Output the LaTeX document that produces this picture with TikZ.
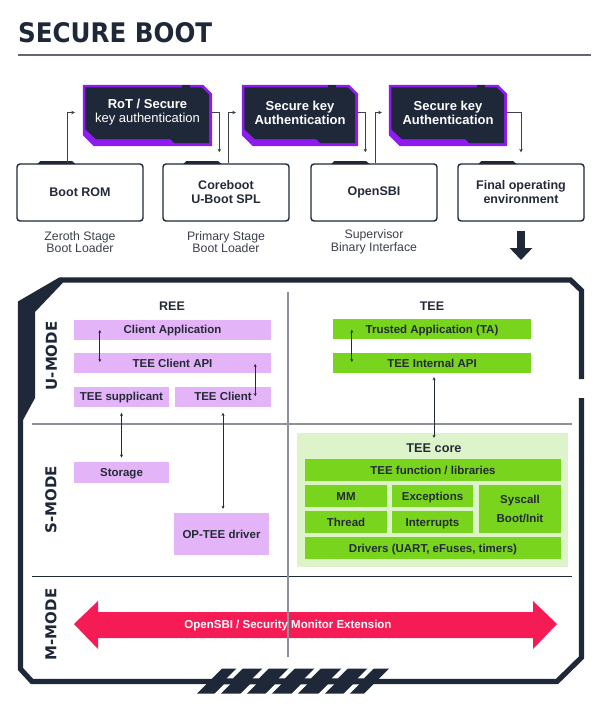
\documentclass[tikz,border=0pt]{standalone}
\usepackage{fontspec}
\setmainfont{Liberation Sans}
\newfontfamily\displayfont{DejaVu Sans}
\usetikzlibrary{arrows.meta, positioning, calc, backgrounds}

\definecolor{navy}{HTML}{1F2839}
\definecolor{ink}{HTML}{252A38}
\definecolor{keyviolet}{HTML}{8E1BF0}
\definecolor{reeviolet}{HTML}{E4B4F8}
\definecolor{teegreen}{HTML}{78D41C}
\definecolor{corebg}{HTML}{DDF4CB}
\definecolor{monitorred}{HTML}{F51C56}
\definecolor{rulegrey}{HTML}{8C9099}
\definecolor{capgrey}{HTML}{3C414C}

% purple key-check plate behind a keybox node
\newcommand\keyplate[1]{%
  \fill[keyviolet] ($(#1.north west)+(0,3)$) -- ($(#1.north east)+(-9,3)$)
    -- ($(#1.north east)+(0,12)$) -- ($(#1.south east)+(0,3)$)
    -- ($(#1.south west)+(11,3)$) -- ($(#1.south west)+(0,-8)$) -- cycle;
  \fill[navy] ($(#1.north west)+(2.5,5.5)$) -- ($(#1.north east)+(-10.5,5.5)$)
    -- ($(#1.north east)+(-3,13)$) -- ($(#1.south east)+(-3,0)$)
    -- ($(#1.south east)+(-38,0)$) -- ($(#1.south east)+(-42,-4)$)
    -- ($(#1.south west)+(13,-4)$) -- ($(#1.south west)+(2.5,-14)$) -- cycle;
  \fill[navy] ($(#1.north east)+(-30,3)$) rectangle ($(#1.north east)+(-22,6)$);}

% folder tab on top of a stagebox node
\newcommand\stagetab[1]{%
  \fill[navy] ($(#1.north west)+(21,0.7)$) -- ($(#1.north west)+(24,-2.2)$)
    -- ($(#1.north west)+(56,-2.2)$) -- ($(#1.north west)+(59,0.7)$) -- cycle;}

\begin{document}
\begin{tikzpicture}[
  x=1pt, y=-1pt,
  keybox/.style={minimum width=#1, minimum height=61pt, inner sep=0pt,
                 align=center, text=white, font=\fontsize{13}{14}\selectfont},
  stagebox/.style={draw=navy, line width=1.4pt, rounded corners=3pt, fill=white,
                   minimum width=126pt, minimum height=57pt, align=center,
                   text=ink, font=\bfseries\fontsize{12.5}{14}\selectfont},
  caption/.style={align=center, text=capgrey, font=\fontsize{12.3}{12.5}\selectfont},
  reebox/.style={fill=reeviolet, minimum width=#1, minimum height=20pt,
                 inner sep=0pt, text height=8.2pt, text depth=0pt, text=ink,
                 font=\bfseries\fontsize{11.5}{13}\selectfont},
  teebox/.style={reebox=#1, fill=teegreen},
  heading/.style={text=ink, inner sep=0pt, font=\bfseries\fontsize{12.5}{14}\selectfont},
  modelabel/.style={rotate=90, inner sep=0pt, text=navy,
                    font=\displayfont\bfseries\fontsize{15}{15}\selectfont},
  link/.style={draw=capgrey, line width=0.8pt, -{Stealth[length=3.5pt,width=3.5pt]}},
  biarrow/.style={draw=ink, line width=0.7pt,
                  {Stealth[length=3pt,width=3pt]}-{Stealth[length=3pt,width=3pt]}},
  frame/.style={draw=navy, line width=5.2pt, line join=miter},
]
\useasboundingbox (0,0) rectangle (610,709);

% ---- title ----
\node[anchor=west, inner sep=0pt, text=navy] (title) at (18,33)
  {\resizebox{194pt}{20pt}{\displayfont\bfseries SECURE BOOT}};
\draw[draw=capgrey!80, line width=2pt] (18,55) -- (591,55);

% ---- boot chain ----
\node[keybox=129pt] (rot) at (147.5,112.5) {\textbf{RoT / Secure}\\key authentication};
\node[keybox=116pt, font=\bfseries\fontsize{13}{14}\selectfont] (keyauthA) at (300,112.5)
  {Secure key\\Authentication};
\node[keybox=118pt, font=\bfseries\fontsize{13}{14}\selectfont] (keyauthB) at (448,112.5)
  {Secure key\\Authentication};

\begin{scope}[on background layer]
  \fill[white] (0,0) rectangle (610,709);
  \keyplate{rot}
  \keyplate{keyauthA}
  \keyplate{keyauthB}
\end{scope}

\node[stagebox] (bootrom)  at (80,192.5)  {Boot ROM};
\node[stagebox] (coreboot) at (226,192.5) {Coreboot\\U-Boot SPL};
\node[stagebox] (opensbi)  at (374,192.5) {OpenSBI};
\node[stagebox] (finalenv) at (521,192.5) {Final operating\\environment};
\stagetab{bootrom}
\stagetab{coreboot}
\stagetab{opensbi}
\stagetab{finalenv}

\node[caption] (zeroth)  at (80,242)  {Zeroth Stage\\Boot Loader};
\node[caption] (primary) at (226,242) {Primary Stage\\Boot Loader};
\node[caption] (sbi)     at (374,242) {Supervisor\\Binary Interface};

\draw[link, shorten >=8pt] ($(bootrom.north west)+(51,0)$) |- (rot.west);
\draw[link, shorten >=11pt] (rot.east) -| ($(coreboot.north west)+(57,0)$);
\draw[link, shorten >=6pt] ($(coreboot.north west)+(66,0)$) |- (keyauthA.west);
\draw[link, shorten >=11pt] (keyauthA.east) -| ($(opensbi.north west)+(55,0)$);
\draw[link, shorten >=7pt] ($(opensbi.north west)+(65,0)$) |- (keyauthB.west);
\draw[link, shorten >=11pt] (keyauthB.east) -| (finalenv.north);

\coordinate (downtip) at (521,260);
\draw[navy, line width=8pt, shorten <=9pt, -{Triangle[length=12pt,width=22pt]}]
  (finalenv.south) -- (downtip);

% ---- privilege frame ----
\draw[frame] (581.5,379) -- (581.5,290.5) -- (570.5,280) -- (60,280) -- (20.5,303)
  -- (20.5,669) -- (32,681.5) -- (557,681.5) -- (581.5,657.5) -- (581.5,398);
\fill[navy] (62,277.4) -- (18,303) -- (18,420) -- (23,420) -- (35,398) -- (35,312)
  -- (63,282.6) -- cycle;
\fill[navy] (222,668.5) -- (389,668.5) -- (364,693.5) -- (197,693.5) -- cycle;
\foreach \gx in {237,263,289,315,342,368}
  \fill[white] (\gx,668) -- ++(6,0) -- ++(-10.3,10.3) -- ++(-6,0) -- cycle;
\foreach \gx in {224,250,275,301,328,353}
  \fill[white] (\gx,684.3) -- ++(6,0) -- ++(-9.7,9.7) -- ++(-6,0) -- cycle;

\draw[rulegrey, line width=1.3pt] (32,424) -- (572,424);
\draw[navy, line width=1pt] (32,576) -- (572,576);

\node[modelabel] (umode) at (51.5,356) {U-MODE};
\node[modelabel] (smode) at (51,499.5) {S-MODE};
\node[modelabel] (mmode) at (51,624.5) {M-MODE};

% ---- REE side ----
\node[heading] (ree) at (172,306) {REE};
\node[reebox=197pt] (clientapp)    at (172.5,329.5) {Client Application};
\node[reebox=197pt] (teeclientapi) at (172.5,363)   {TEE Client API};
\node[reebox=95pt]  (supplicant)   at (121.5,396.7) {TEE supplicant};
\node[reebox=96pt]  (teeclient)    at (223,396.7)   {TEE Client};
\node[reebox=95pt, minimum height=21.6pt] (storage) at (121.5,472.5) {Storage};
\node[reebox=95pt, minimum height=42pt]   (optee)   at (221.5,534)   {OP-TEE driver};

\draw[biarrow] ($(clientapp.west)+(26,0.5)$) -- ($(teeclientapi.west)+(26,-1)$);
\draw[biarrow] ($(teeclientapi.east)+(-16,1)$) -- ($(teeclient.east)+(-16,-0.5)$);
\draw[biarrow, shorten <=6pt, shorten >=4pt] (supplicant.south) -- (storage.north);
\draw[biarrow, shorten <=6pt, shorten >=4pt] (teeclient.south) -- (teeclient.south |- optee.north);

% ---- TEE side ----
\node[heading] (tee) at (432,306) {TEE};
\node[teebox=198pt] (ta)          at (432,329.3) {Trusted Application (TA)};
\node[teebox=198pt] (internalapi) at (432,363)   {TEE Internal API};

\node[fill=corebg, minimum width=270.4pt, minimum height=134.6pt, inner sep=0pt]
  (coreframe) at (432.5,500) {};
\node[heading, font=\bfseries\fontsize{12.7}{14}\selectfont] (coretitle) at (434,448) {TEE core};
\node[teebox=255.7pt, minimum height=21.7pt] (libs)       at (433,470)   {TEE function / libraries};
\node[teebox=81.7pt, minimum height=21.7pt]  (mm)         at (346,496)   {MM};
\node[teebox=81.7pt, minimum height=21.7pt]  (exceptions) at (432.5,496) {Exceptions};
\node[teebox=81.7pt, minimum height=22.6pt]  (thread)     at (346,522)   {Thread};
\node[teebox=81.7pt, minimum height=22.6pt]  (interrupts) at (432.5,522) {Interrupts};
\node[teebox=81.4pt, minimum height=48.3pt, align=center, text height={}, text depth={},
      font=\bfseries\fontsize{11.5}{19.4}\selectfont] (syscall) at (520,509) {Syscall\\Boot/Init};
\node[teebox=255.7pt, minimum height=22.3pt] (drivers)    at (433,548)   {Drivers (UART, eFuses, timers)};

\draw[biarrow] ($(ta.west)+(19,0.5)$) -- ($(internalapi.west)+(19,-1)$);
\draw[biarrow, shorten <=4pt, shorten >=5.5pt] (coretitle.north |- internalapi.south) -- (coretitle.north);

% ---- M-mode ----
\fill[monitorred] (74,624) -- (98,601) -- (98,612) -- (533,612) -- (533,601) -- (557,624)
  -- (533,649) -- (533,638) -- (98,638) -- (98,649) -- cycle;
\draw[rulegrey, line width=1.3pt] (288,292) -- (288,657);
\node[text=white, inner sep=0pt, text height=8.2pt, text depth=0pt,
      font=\bfseries\fontsize{11.5}{13}\selectfont]
  (monitor) at (288,624) {OpenSBI / Security Monitor Extension};

\end{tikzpicture}
\end{document}
